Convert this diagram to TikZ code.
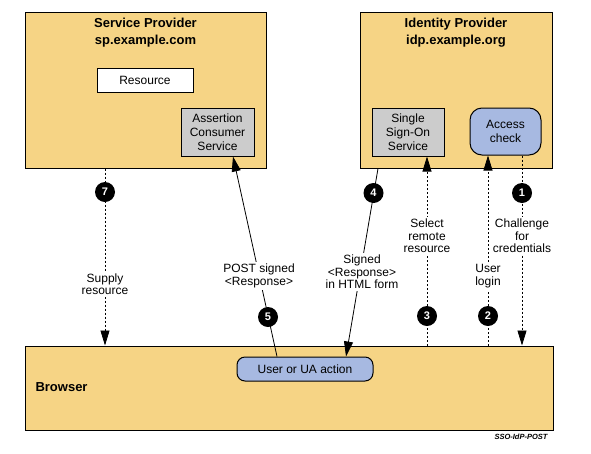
\documentclass[tikz,border=0pt]{standalone}
\usepackage{fontspec}
\setmainfont{Liberation Sans}
\usetikzlibrary{arrows.meta}
\definecolor{sand}{HTML}{F6D485}
\definecolor{greybox}{HTML}{CCCCCC}
\definecolor{bluebox}{HTML}{A7B9E1}

\begin{document}
\begin{tikzpicture}[x=1pt, y=-1pt,
        party/.style={draw, fill=sand, line width=1pt, inner sep=0pt},
        title/.style={align=center, font=\fontsize{13}{17}\selectfont\bfseries},
        box/.style={draw, line width=1pt, align=center, inner sep=0pt, font=\fontsize{12}{14}\selectfont},
        badge/.style={circle, fill=black, inner sep=0pt, minimum size=20pt, text=white, font=\fontsize{11}{11}\selectfont\bfseries},
        lbl/.style={fill=white, align=center, inner sep=2pt, font=\fontsize{12}{12.5}\selectfont},
        tip/.style={-{Triangle[length=15pt, width=9pt]}},
        flow/.style={tip, line width=0.8pt},
        dotflow/.style={tip, line width=0.8pt, dash pattern=on 2pt off 2pt}]
        \useasboundingbox (0,0) rectangle (591,453);
        % the three parties
        \node[party, minimum width=241pt, minimum height=156pt] (sp) at (145.5,90) {};
        \node[title] at (145.5,33) {Service Provider\\sp.example.com};
        \node[party, minimum width=192pt, minimum height=156pt] (idp) at (456,90) {};
        \node[title] at (456,33) {Identity Provider\\idp.example.org};
        \node[party, minimum width=528pt, minimum height=84pt] (browser) at (289,388) {};
        \node[anchor=west, font=\fontsize{13}{13}\selectfont\bfseries] at (32,387) {Browser};
        \node[anchor=east, font=\fontsize{7.5}{7.5}\selectfont\bfseries\itshape] at (551,437) {SSO-IdP-POST};
        % boxes inside
        \node[box, fill=white, minimum width=96pt, minimum height=24pt] (res) at (145,80) {Resource};
        \node[box, fill=greybox, minimum width=73pt, minimum height=48pt] (acs) at (217.5,132) {Assertion\\Consumer\\Service};
        \node[box, fill=greybox, minimum width=72pt, minimum height=48pt] (sso) at (408,132) {Single\\Sign-On\\Service};
        \node[box, fill=bluebox, rounded corners=12pt, minimum width=71pt, minimum height=47pt] (ac) at (505.5,131.5) {Access\\check};
        \node[box, fill=bluebox, rounded corners=8pt, minimum width=136pt, minimum height=24pt] (ua) at (305,369) {User or UA action};
        % the steps
        \draw[dotflow] ([xshift=16.5pt]ac.south) -- ([xshift=16.5pt]ac.south |- browser.north);
        \draw[dotflow] ([xshift=-17.5pt]ac.south |- browser.north) -- ([xshift=-17.5pt]ac.south);
        \draw[dotflow] ([xshift=19pt]sso.south |- browser.north) -- ([xshift=19pt]sso.south);
        \draw[flow] ([xshift=-78pt]idp.south) -- ([xshift=41pt]ua.north);
        \draw[flow] ([xshift=-28pt]ua.north) -- ([xshift=15.5pt]acs.south);
        \draw[dotflow] ([xshift=-40.5pt]sp.south) -- ([xshift=-40.5pt]sp.south |- browser.north);
        \node[lbl] (l1) at (522,236) {Challenge\\for\\credentials};
        \node[lbl] (l2) at (488,276) {User\\login};
        \node[lbl] (l3) at (427,236) {Select\\remote\\resource};
        \node[lbl] (l4) at (362,272) {Signed\\<Response>\\in HTML form};
        \node[lbl] (l5) at (259,276) {POST signed\\<Response>};
        \node[lbl] (l7) at (105,284) {Supply\\resource};
        \node[badge] (b1) at (522,193) {1};
        \node[badge] (b2) at (488,316) {2};
        \node[badge] (b3) at (427,316) {3};
        \node[badge] (b4) at (373.5,193) {4};
        \node[badge] (b5) at (268,317) {5};
        \node[badge] (b7) at (105,192) {7};
    \end{tikzpicture}
\end{document}
